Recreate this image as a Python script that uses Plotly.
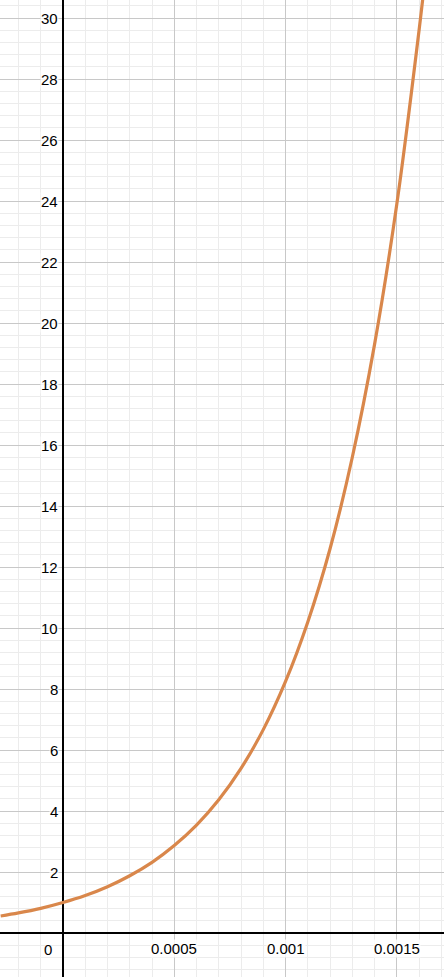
import plotly.graph_objects as go

xs = [-0.00028, -0.0002, -0.0001, 0, 0.0001, 0.0002, 0.0003, 0.0004, 0.0005, 0.0006,
      0.0007, 0.0008, 0.0009, 0.001, 0.0011, 0.0012, 0.0013, 0.0014, 0.0015, 0.0016, 0.00163]
ys = [0.56, 0.66, 0.81, 1.0, 1.23, 1.52, 1.88, 2.32, 2.87, 3.54,
      4.37, 5.4, 6.67, 8.25, 10.2, 12.6, 15.6, 19.3, 23.9, 29.6, 31.5]
y_ticks = [2, 4, 6, 8, 10, 12, 14, 16, 18, 20, 22, 24, 26, 28, 30]
x_ticks = [0.0005, 0.001, 0.0015]
x_labels = ["0.0005", "0.001", "0.0015"]

fig = go.Figure(go.Scatter(x=xs, y=ys, mode="lines", line=dict(color="#d9874b", width=3.2, shape="spline"),
                           hoverinfo="skip"))

fnt = dict(family="Liberation Sans, Arial", size=15, color="black")
ann = []
for v in y_ticks:
    ann.append(dict(x=0, y=v, xref="x", yref="y", text=str(v), showarrow=False,
                    xanchor="right", xshift=-4, font=fnt, bgcolor="rgba(255,255,255,0.8)", borderpad=0))
for v, t in zip(x_ticks, x_labels):
    ann.append(dict(x=v, y=0, xref="x", yref="y", text=t, showarrow=False,
                    yanchor="top", yshift=-6, font=fnt, bgcolor="rgba(255,255,255,0.8)", borderpad=0))
ann.append(dict(x=0, y=0, xref="x", yref="y", text="0", showarrow=False,
                xanchor="right", yanchor="top", xshift=-9, yshift=-6, font=fnt))

axcommon = dict(showticklabels=False, ticks="", zeroline=True, zerolinecolor="black", zerolinewidth=1.5,
                gridcolor="#c8c8c8", gridwidth=1, showline=False, fixedrange=True)
fig.update_layout(
    width=444, height=977, margin=dict(l=0, r=0, t=0, b=0),
    plot_bgcolor="white", paper_bgcolor="white", showlegend=False,
    xaxis=dict(range=[-0.000283, 0.001712], dtick=0.0005, tick0=0,
               minor=dict(dtick=0.0001, showgrid=True, gridcolor="#ececec"), **axcommon),
    yaxis=dict(range=[-1.44, 30.59], dtick=2, tick0=0,
               minor=dict(dtick=0.4, showgrid=True, gridcolor="#ececec"), **axcommon),
    annotations=ann,
)
fig.write_html("out.html", config={"displayModeBar": False},
               post_script="document.body.style.margin='0';document.body.style.overflow='hidden';")
